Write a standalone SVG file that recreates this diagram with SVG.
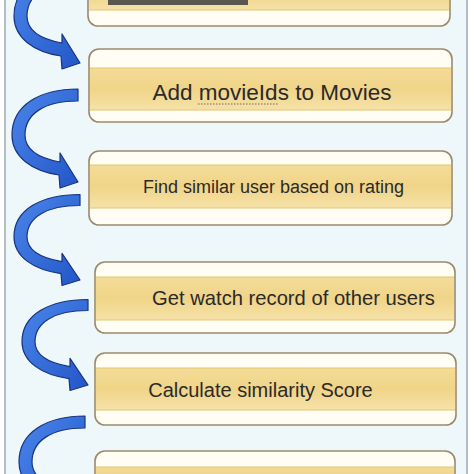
<svg xmlns="http://www.w3.org/2000/svg" width="474" height="474" viewBox="0 0 474 474">
<defs>
<style>
.box{fill:#fffdf4;stroke:#9a8a6c;stroke-width:1.6}
.band{fill:url(#bandG)}
.bandEdge{stroke:#e3c66f;stroke-width:1;fill:none}
.lbl{font-family:"Liberation Sans",Arial,sans-serif;fill:#2a2a2a;text-anchor:middle}
.arr{fill:url(#arrG);stroke:#1a3580;stroke-width:1.2;stroke-linejoin:round}
</style>
<linearGradient id="bandG" x1="0" y1="0" x2="0" y2="1">
<stop offset="0" stop-color="#f4dc98"/>
<stop offset="0.5" stop-color="#f0d488"/>
<stop offset="1" stop-color="#f6e2a8"/>
</linearGradient>
<linearGradient id="arrG" x1="0" y1="0" x2="1" y2="1">
<stop offset="0" stop-color="#4a86ea"/>
<stop offset="1" stop-color="#2356c8"/>
</linearGradient>
<path id="curl" d="M 0,-6 C -38,-6 -66,10 -66,40 C -66,62 -46,76 -19,80 L -18,93 L 0,87 L -18,58 L -18,67 C -40,63 -53,54 -53,40 C -53,19 -34,6 0,6 Z"/>
</defs>
<rect x="0" y="0" width="474" height="474" fill="#ffffff"/>
<rect x="5" y="-2" width="462" height="478" fill="#eef8fb" stroke="#a2aaae" stroke-width="1.5"/>

<g id="connectors">
<use href="#curl" class="arr" transform="translate(80,-24)"/>
<use href="#curl" class="arr" transform="translate(78,95)"/>
<use href="#curl" class="arr" transform="translate(80,200) scale(1,0.92)"/>
<use href="#curl" class="arr" transform="translate(88,305) scale(1,0.92)"/>
<use href="#curl" class="arr" transform="translate(85,422)"/>
</g>

<g id="node0">
<rect class="box" x="88" y="-30" width="362" height="56" rx="10"/>
<rect class="band" x="89" y="-20" width="360" height="30"/>
<line class="bandEdge" x1="89" y1="10" x2="449" y2="10"/>
<rect x="108" y="0" width="140" height="5" fill="#5a5650"/>
</g>

<g id="node1">
<rect class="box" x="89" y="49" width="363" height="73" rx="10"/>
<rect class="band" x="90" y="68" width="361" height="42"/>
<line class="bandEdge" x1="90" y1="68" x2="451" y2="68"/>
<line class="bandEdge" x1="90" y1="110" x2="451" y2="110"/>
<text class="lbl" x="272" y="100" font-size="22.5">Add movieIds to Movies</text>
<line x1="198" y1="104" x2="278" y2="104" stroke="#6a6a6a" stroke-width="1" stroke-dasharray="1.5,1.5"/>
</g>

<g id="node2">
<rect class="box" x="89" y="151" width="363" height="74" rx="10"/>
<rect class="band" x="90" y="165" width="361" height="43"/>
<line class="bandEdge" x1="90" y1="165" x2="451" y2="165"/>
<line class="bandEdge" x1="90" y1="208" x2="451" y2="208"/>
<text class="lbl" x="273.5" y="193" font-size="18">Find similar user based on rating</text>
</g>

<g id="node3">
<rect class="box" x="95" y="262" width="360" height="71" rx="10"/>
<rect class="band" x="96" y="277" width="358" height="43"/>
<line class="bandEdge" x1="96" y1="277" x2="454" y2="277"/>
<line class="bandEdge" x1="96" y1="320" x2="454" y2="320"/>
<text class="lbl" x="293.5" y="305" font-size="20.2">Get watch record of other users</text>
</g>

<g id="node4">
<rect class="box" x="95" y="353" width="361" height="72" rx="10"/>
<rect class="band" x="96" y="368" width="359" height="42"/>
<line class="bandEdge" x1="96" y1="368" x2="455" y2="368"/>
<line class="bandEdge" x1="96" y1="410" x2="455" y2="410"/>
<text class="lbl" x="260.5" y="397" font-size="20">Calculate similarity Score</text>
</g>

<g id="node5">
<rect class="box" x="95" y="451" width="360" height="70" rx="10"/>
<rect class="band" x="96" y="467" width="358" height="20"/>
<line class="bandEdge" x1="96" y1="467" x2="454" y2="467"/>
</g>
</svg>
